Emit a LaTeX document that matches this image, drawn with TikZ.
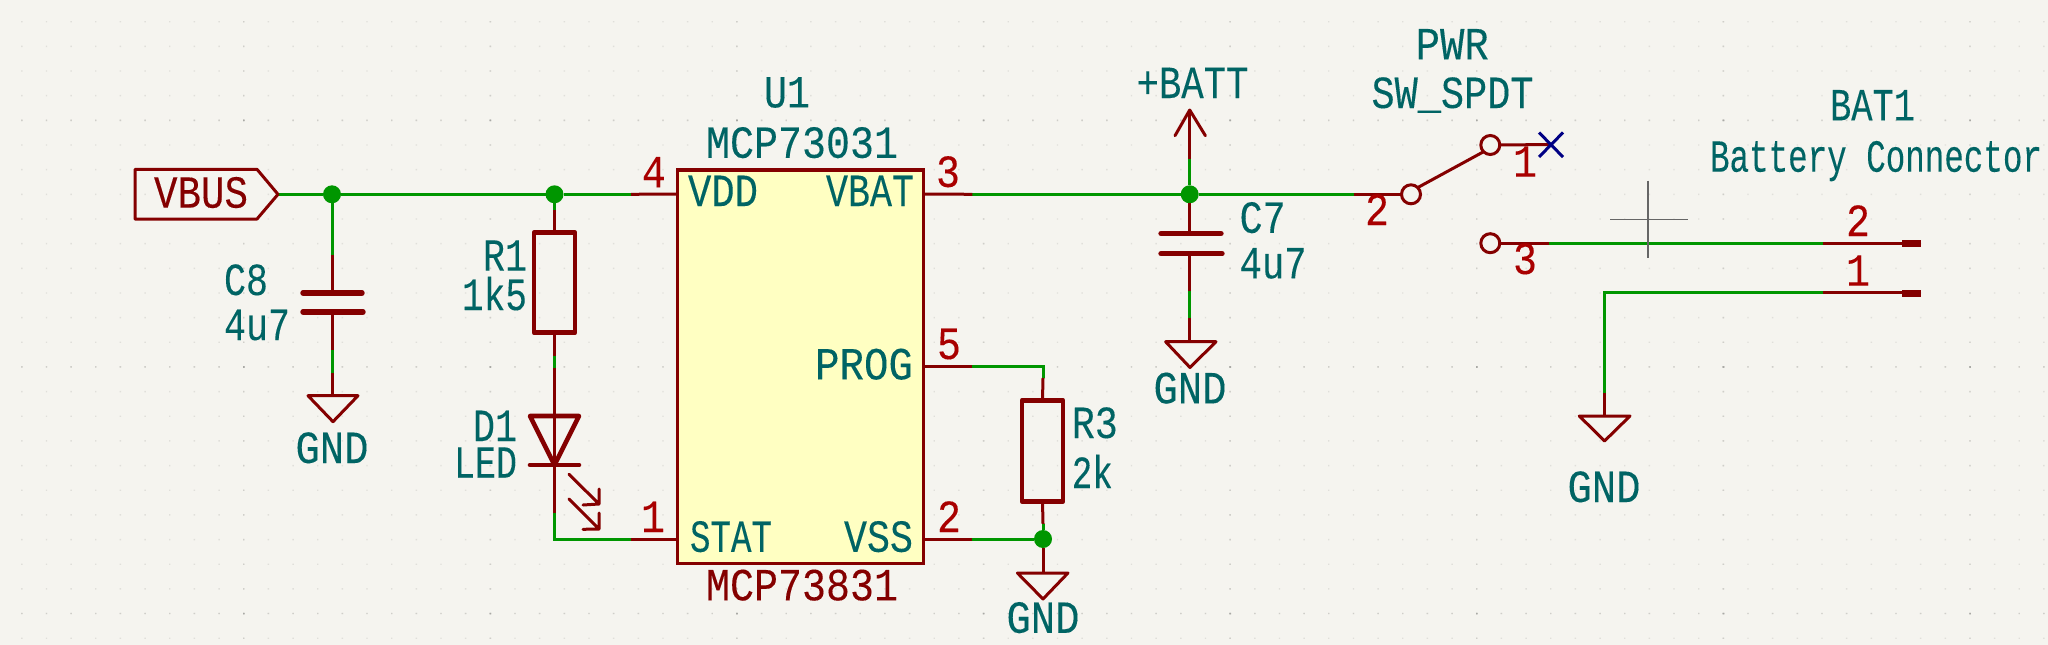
\documentclass[tikz,border=0pt]{standalone}
\usepackage{fontspec}
\setmainfont{Liberation Mono}[FakeBold=0.2]
\definecolor{sheet}{HTML}{F5F4EF}
\definecolor{wiregreen}{HTML}{009600}
\definecolor{symred}{HTML}{840000}
\definecolor{pinred}{HTML}{A90000}
\definecolor{fieldteal}{HTML}{006464}
\definecolor{icfill}{HTML}{FFFFC2}
\definecolor{ncblue}{HTML}{000084}
\definecolor{griddot}{HTML}{E0DFDA}
\definecolor{griddotb}{HTML}{CFCEC9}
\definecolor{griddotc}{HTML}{A9A9A5}
\tikzset{
  x=1pt,y=-1pt,
  wire/.style={draw=wiregreen,line width=3pt},
  pinline/.style={draw=symred,line width=3pt},
  thinsym/.style={draw=symred,line width=3pt,line join=round},
  platesym/.style={draw=symred,line width=5.4pt,line cap=round},
  ressym/.style={draw=symred,line width=4.6pt,rectangle,minimum width=#1,inner sep=0pt,outer sep=0pt,line join=round},
  junc/.style={circle,fill=wiregreen,minimum size=18pt,inner sep=0pt,outer sep=0pt},
  term/.style={circle,draw=symred,line width=3pt,minimum size=19pt,inner sep=0pt,outer sep=0pt},
  txt/.style={inner sep=0pt,outer sep=0pt,font=\fontsize{46}{46}\selectfont},
  teal/.style={txt,text=fieldteal},
  redt/.style={txt,text=symred},
  pint/.style={txt,text=pinred,anchor=base},
  lw/.style={anchor=base west},
  lc/.style={anchor=base},
  le/.style={anchor=base east},
}
\newcommand{\fitw}[2]{\resizebox{#1pt}{\height}{#2}}
\begin{document}
\begin{tikzpicture}
\path[use as bounding box,fill=sheet] (0,0) rectangle (2048,645);
% grid
\fill[griddot] \foreach \i in {0,...,82}{\foreach \j in {0,...,25}{ ({21.1+24.66*\i},{21+24.66*\j}) rectangle +(1.4,1.4) }};
\fill[griddotb] \foreach \i in {0,...,82}{\foreach \j in {4,14,24}{ ({21.1+24.66*\i},{21+24.66*\j}) rectangle +(1.4,1.4) }};
\fill[griddotb] \foreach \i in {9,19,...,79}{\foreach \j in {0,...,25}{ ({21.1+24.66*\i},{21+24.66*\j}) rectangle +(1.4,1.4) }};
\fill[griddotc] \foreach \i in {9,19,...,79}{\foreach \j in {4,14,24}{ ({21.1+24.66*\i},{21+24.66*\j}) rectangle +(1.6,1.6) }};

% IC
\node[rectangle,draw=symred,fill=icfill,line width=3.4pt,minimum width=246pt,minimum height=393.5pt,inner sep=0pt,outer sep=0pt] (U1) at (800.5,366.9) {};
\coordinate (p4) at (U1.west |- 0,194);
\coordinate (p1) at (U1.west |- 0,539);
\coordinate (p3) at (U1.east |- 0,194);
\coordinate (p5) at (U1.east |- 0,366.7);
\coordinate (p2) at (U1.east |- 0,539);

% junctions
\node[junc] (J1) at (332,194.3) {};
\node[junc] (J2) at (554.5,194.3) {};
\node[junc] (J3) at (1189.7,194.3) {};
\node[junc] (J4) at (1043,539) {};

% resistors
\node[ressym=41pt,minimum height=100pt] (R1) at (554.5,282.7) {};
\node[ressym=41pt,minimum height=101pt] (R3) at (1042.5,450.8) {};

% named wire points
\coordinate (vbtip) at (278,194.3);
\coordinate (w4) at (631,194.3);
\coordinate (w1) at (631,539);
\coordinate (ledbend) at (554.5,539);
\coordinate (w3) at (972.3,194.3);
\coordinate (w5) at (972.3,366.7);
\coordinate (w2) at (972.3,539);
\coordinate (r3bend) at (1043,366.7);
\coordinate (swin) at (1353.5,194.3);

% wires (green)
\draw[wire] (vbtip) -- (J1) -- (J2) -- (w4);
\draw[wire] (J1) -- (332,255) coordinate (c8a);
\draw[wire] (332,350) coordinate (c8b) -- (332,373) coordinate (c8c);
\draw[wire] (J2) -- (554.5,210) coordinate (r1a);
\draw[wire] (554.5,356) coordinate (r1b) -- (554.5,368) coordinate (r1c);
\draw[wire] (554.5,513) coordinate (ledc) -- (ledbend) -- (w1);
\draw[wire] (w3) -- (J3) -- (swin);
\draw[wire] (J3) -- (1189.7,159) coordinate (ba);
\draw[wire] (1189.7,291) coordinate (c7b) -- (1189.7,318) coordinate (c7c);
\draw[wire] (w5) -- (r3bend) -- (1043,378) coordinate (r3a);
\draw[wire] (1043,523.8) coordinate (r3b) -- (J4);
\draw[wire] (w2) -- (J4);
\draw[wire] (1549,243.2) coordinate (s3b) -- (1823,243.2) coordinate (b2a);
\draw[wire] (1823,292.7) coordinate (b1a) -- (1604,292.7) coordinate (bend) -- (1604,392.7) coordinate (g4a);

% pin lines (red)
\draw[pinline] (p4) -- (w4);
\draw[pinline] (p1) -- (w1);
\draw[pinline] (p3) -- (w3);
\draw[pinline] (p5) -- (w5);
\draw[pinline] (p2) -- (w2);
\draw[pinline] (c8a) -- (332,293) coordinate (c8t);
\draw[pinline] (332,312) coordinate (c8u) -- (c8b);
\draw[pinline] (c8c) -- (332,395.7) coordinate (g1);
\draw[pinline] (r1a) -- (R1.north);
\draw[pinline] (R1.south) -- (r1b);
\draw[pinline] (r1c) -- (554.5,416) coordinate (ledtop);
\draw[pinline] (ledtop) -- (554.5,465) coordinate (ledtip) -- (ledc);
\draw[pinline] (ba) -- (1189.7,110) coordinate (bt);
\draw[pinline] (J3) -- (1189.7,233.5) coordinate (c7t);
\draw[pinline] (1189.7,253.7) coordinate (c7u) -- (c7b);
\draw[pinline] (c7c) -- (1189.7,341.7) coordinate (g2);
\draw[pinline] (r3a) -- (R3.north);
\draw[pinline] (R3.south) -- (r3b);
\draw[pinline] (J4) -- (1043,573) coordinate (g3);
\draw[pinline] (g4a) -- (1604,416) coordinate (g4);

% VBUS flag
\draw[thinsym] (135,169.3) -- (257,169.3) -- (vbtip) -- (257,219) -- (135,219) -- cycle;

% capacitors
\draw[platesym] (303,293) -- (362,293);
\draw[platesym] (303,312) -- (363,312);
\draw[platesym] (1161,233.5) -- (1221,233.5);
\draw[platesym] (1161,253.7) -- (1222,253.7);

% GND symbols
\draw[thinsym] (308,395.7) -- (358,395.7) -- (333,421.7) -- cycle;
\draw[thinsym] (1165.6,341.7) -- (1216,341.7) -- (1190,367.5) -- cycle;
\draw[thinsym] (1017.4,573) -- (1068,573) -- (1043,599) -- cycle;
\draw[thinsym] (1579.3,416) -- (1630,416) -- (1604.5,441) -- cycle;

% LED
\draw[draw=symred,line width=4.6pt,line join=round] (530,416) -- (579,416) -- (ledtip) -- cycle;
\draw[draw=symred,line width=4.6pt,line cap=round] (530,465) -- (579,465);
\draw[thinsym,line cap=round] (569,474.3) -- (599,504) -- (599,489) (599,504) -- (583,505);
\draw[thinsym,line cap=round] (569,499) -- (599,529) -- (599,513) (599,529) -- (583,529.3);

% power arrow
\draw[thinsym,line cap=round] (1175,135.7) -- (bt) -- (1205.4,135.7);

% switch
\node[term] (S2) at (1411,194.3) {};
\node[term] (S1) at (1490.3,145) {};
\node[term] (S3) at (1490.3,243.2) {};
\draw[pinline] (swin) -- (S2.west);
\draw[thinsym] (S2.north east) -- (S1.south west);
\draw[pinline] (S1.east) -- (1551,144.5) coordinate (nc);
\draw[pinline] (S3.east) -- (s3b);
\draw[draw=ncblue,line width=3pt] (1539,132.5) -- (1563,157) (1563,132.5) -- (1539,157);

% connector
\coordinate (pad2) at (1902,243.2);
\coordinate (pad1) at (1902,292.7);
\draw[pinline] (b2a) -- (pad2);
\draw[pinline] (b1a) -- (pad1);
\fill[symred] (1902,239.7) rectangle (1921,247.2);
\fill[symred] (1902,289.7) rectangle (1921,296.7);

% cursor cross
\draw[draw=black!60,line width=1.1pt] (1648,180.7) -- (1648,257.7) (1610,219.3) -- (1687.6,219.3);

% texts
\node[redt,lw] (tvbus) at (154,207.7) {\fitw{94}{VBUS}};
\node[teal,lw] (tc8) at (224,295) {\fitw{44}{C8}};
\node[teal,lw] (tc8v) at (224,340) {\fitw{66}{4u7}};
\node[teal,lc] (tg1) at (332,463) {\fitw{73}{GND}};
\node[teal,le] (tr1) at (527,270.7) {\fitw{44}{R1}};
\node[teal,le] (tr1v) at (527,310) {\fitw{65}{1k5}};
\node[teal,le] (td1) at (517,441) {\fitw{44}{D1}};
\node[teal,le] (td1v) at (517,477.7) {\fitw{63}{LED}};
\node[teal,lc] (tu1) at (787,107.4) {\fitw{46}{U1}};
\node[teal,lw] (tmcp) at (706,157.8) {\fitw{192}{MCP73031}};
\node[redt,lw] (tmcq) at (706,600.3) {\fitw{192}{MCP73831}};
\node[teal,lw] (tvdd) at (688,206) {\fitw{70}{VDD}};
\node[teal,le] (tvbat) at (914,206) {\fitw{88}{VBAT}};
\node[teal,le] (tprog) at (913,379.4) {\fitw{98}{PROG}};
\node[teal,lw] (tstat) at (690,551.8) {\fitw{82}{STAT}};
\node[teal,le] (tvss) at (913,551.8) {\fitw{69}{VSS}};
\node[teal,lw] (tbatt) at (1136.5,98) {\fitw{112}{+BATT}};
\node[teal,lw] (tc7) at (1239.6,232.8) {\fitw{46}{C7}};
\node[teal,lw] (tc7v) at (1239.6,278.3) {\fitw{67}{4u7}};
\node[teal,lc] (tg2) at (1190,403.3) {\fitw{73}{GND}};
\node[teal,lw] (tr3) at (1071.8,438) {\fitw{46}{R3}};
\node[teal,lw] (tr3v) at (1071.8,488) {\fitw{41}{2k}};
\node[teal,lc] (tg3) at (1043,632.8) {\fitw{73}{GND}};
\node[teal,lc] (tg4) at (1604,502) {\fitw{73}{GND}};
\node[teal,lw] (tpwr) at (1415.7,59.3) {\fitw{73}{PWR}};
\node[teal,lw] (tsw) at (1371.5,108) {\fitw{162}{SW\_SPDT}};
\node[teal,lw] (tbat) at (1830,120.3) {\fitw{85}{BAT1}};
\node[teal,lw] (tconn) at (1710,171.7) {\fitw{332}{Battery Connector}};
% pin numbers
\node[pint] (n4) at (653.8,187.3) {\fitw{24}{4}};
\node[pint] (n1) at (653,532) {\fitw{24}{1}};
\node[pint] (n3) at (948,186.9) {\fitw{24}{3}};
\node[pint] (n5) at (949,359) {\fitw{24}{5}};
\node[pint] (n2) at (949,532) {\fitw{24}{2}};
\node[pint] (ns2) at (1377,225) {\fitw{24}{2}};
\node[pint] (ns1) at (1525,176.7) {\fitw{24}{1}};
\node[pint] (ns3) at (1525,274) {\fitw{24}{3}};
\node[pint] (nb2) at (1858,236) {\fitw{24}{2}};
\node[pint] (nb1) at (1858,285.7) {\fitw{24}{1}};
\end{tikzpicture}
\end{document}
